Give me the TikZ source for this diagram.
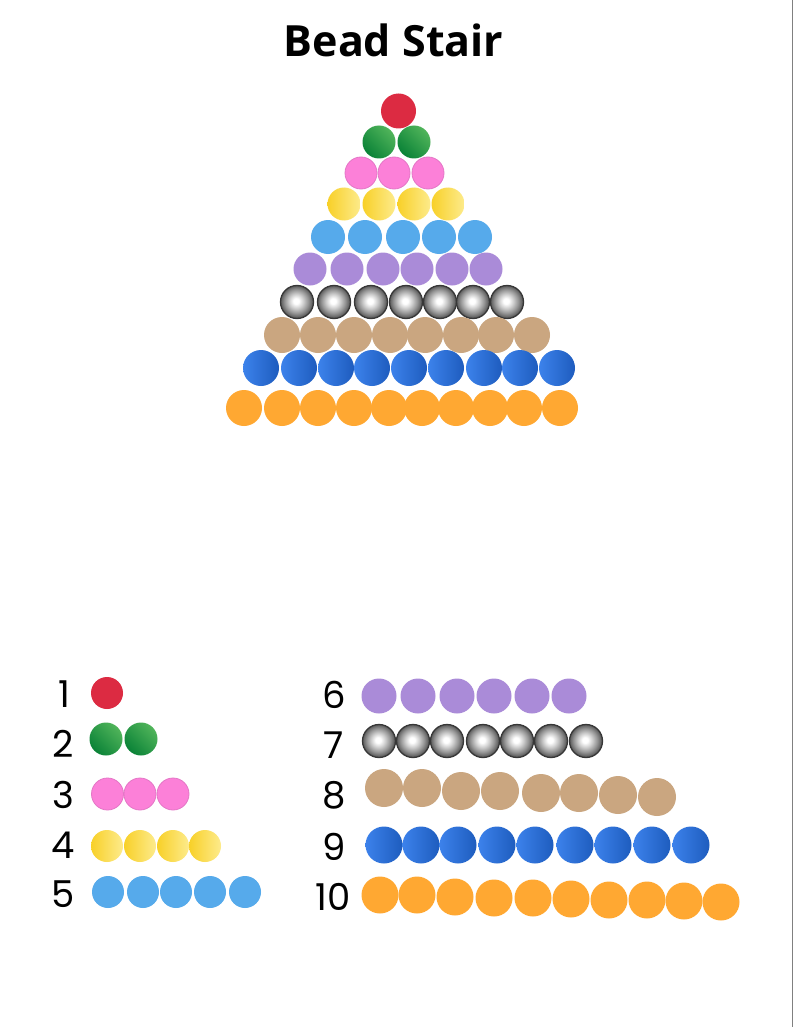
\documentclass[tikz,border=0pt]{standalone}
\usepackage{fontspec}
\setmainfont{Poppins}
\newfontfamily\titlefont{Open Sans}
\pgfdeclareradialshading{graybead}{\pgfpoint{-1.5bp}{1.5bp}}{%
  color(0bp)=(white); color(4bp)=(white); color(11bp)=(black!20); color(18bp)=(black!42); color(23bp)=(black!60); color(25bp)=(black!68); color(50bp)=(black!70)}
\begin{document}
\begin{tikzpicture}[x=1pt,y=-1pt,
  bead/.style={circle, inner sep=0pt, outer sep=0pt, draw=none},
  cred/.style={bead, fill={rgb,255:red,220;green,43;blue,66}},
  cgreen/.style={bead, left color={rgb,255:red,80;green,180;blue,90}, right color={rgb,255:red,10;green,130;blue,55}, shading angle=-45},
  cpink/.style={bead, fill={rgb,255:red,252;green,128;blue,216}, draw={rgb,255:red,228;green,118;blue,198}, line width=0.8pt},
  cyellow/.style={bead, left color={rgb,255:red,248;green,208;blue,40}, right color={rgb,255:red,253;green,235;blue,140}},
  clblue/.style={bead, fill={rgb,255:red,86;green,170;blue,235}},
  cpurple/.style={bead, fill={rgb,255:red,170;green,139;blue,216}},
  cgray/.style={bead, shading=graybead, draw={rgb,255:red,55;green,55;blue,55}, line width=1.3pt},
  ctan/.style={bead, fill={rgb,255:red,202;green,166;blue,128}},
  cblue/.style={bead, left color={rgb,255:red,60;green,130;blue,235}, right color={rgb,255:red,30;green,92;blue,190}},
  corange/.style={bead, fill={rgb,255:red,255;green,168;blue,50}},
  num/.style={font=\fontsize{37}{37}\selectfont, anchor=base, text=black, inner sep=0pt},
  title/.style={font=\titlefont\fontsize{43}{43}\selectfont\bfseries, anchor=base, inner sep=0pt}
]
\useasboundingbox (0,0) rectangle (794,1027);
\fill[white] (0,0) rectangle (794,1027);
\draw[line width=1.5pt, gray] (792.6,0) -- (792.6,1027);

\node[title] (t) at (393.5,57) {Bead Stair};

% ---------- pyramid ----------
\node[cred, minimum size=35pt] (p1-1) at (398.5,111) {};
\foreach \x [count=\i] in {379,414} \node[cgreen, minimum size=33pt] (p2-\i) at (\x,142) {};
\foreach \x [count=\i] in {361,394,428} \node[cpink, minimum size=32pt] (p3-\i) at (\x,173) {};
\foreach \x [count=\i] in {344,379,414,448} \node[cyellow, minimum size=33pt] (p4-\i) at (\x,204) {};
\foreach \x [count=\i] in {328,365,403,439,475} \node[clblue, minimum size=34pt] (p5-\i) at (\x,237) {};
\foreach \x [count=\i] in {310,347,383,417,452,486} \node[cpurple, minimum size=33pt] (p6-\i) at (\x,269) {};
\foreach \x [count=\i] in {297,334,371,406,440,473,507} \node[cgray, minimum size=33pt] (p7-\i) at (\x,302) {};
\foreach \x [count=\i] in {282,318,354,390,425,461,496,532} \node[ctan, minimum size=36pt] (p8-\i) at (\x,335) {};
\foreach \x [count=\i] in {261,299,336,372,409,446,484,520,557} \node[cblue, minimum size=36pt] (p9-\i) at (\x,368) {};
\foreach \x [count=\i] in {244,282,318,354,389,422,456,490,524,560} \node[corange, minimum size=36pt] (p10-\i) at (\x,408) {};

% ---------- left list ----------
\node[num] (n1) at (64,707) {1};
\node[num] (n2) at (63,757) {2};
\node[num] (n3) at (63,808) {3};
\node[num] (n4) at (63,858) {4};
\node[num] (n5) at (63,907) {5};
\node[cred, minimum size=32pt] (a1-1) at (107,693) {};
\foreach \x [count=\i] in {106,141} \node[cgreen, minimum size=33pt] (a2-\i) at (\x,739) {};
\foreach \x [count=\i] in {107.5,140,173} \node[cpink, minimum size=32pt] (a3-\i) at (\x,794) {};
\foreach \x [count=\i] in {107,140,173,205} \node[cyellow, minimum size=32pt] (a4-\i) at (\x,846) {};
\foreach \x [count=\i] in {108,143,176,210,245} \node[clblue, minimum size=32pt] (a5-\i) at (\x,892) {};

% ---------- right list ----------
\node[num] (n6) at (334,708) {6};
\node[num] (n7) at (334,758) {7};
\node[num] (n8) at (334,808) {8};
\node[num] (n9) at (334,860) {9};
\node[num] (n10) at (333.5,910) {10};
\foreach \x [count=\i] in {379,418,457,494,532,569} \node[cpurple, minimum size=35pt] (b6-\i) at (\x,696) {};
\foreach \x [count=\i] in {379,413,447,483,517,551,586} \node[cgray, minimum size=33pt] (b7-\i) at (\x,741) {};
\foreach \x/\y [count=\i] in {384/788,422/788,461/791,500/791,541/793,579/793,618/795,657/797} \node[ctan, minimum size=38pt] (b8-\i) at (\x,\y) {};
\foreach \x [count=\i] in {384,421,458,497,535,575,613,652,691} \node[cblue, minimum size=37pt] (b9-\i) at (\x,845) {};
\foreach \x/\y [count=\i] in {380/895,417/895,455/897,494/898,533/898,571/899,609/900,647/900,684/901,721/902} \node[corange, minimum size=37pt] (b10-\i) at (\x,\y) {};
\end{tikzpicture}
\end{document}
